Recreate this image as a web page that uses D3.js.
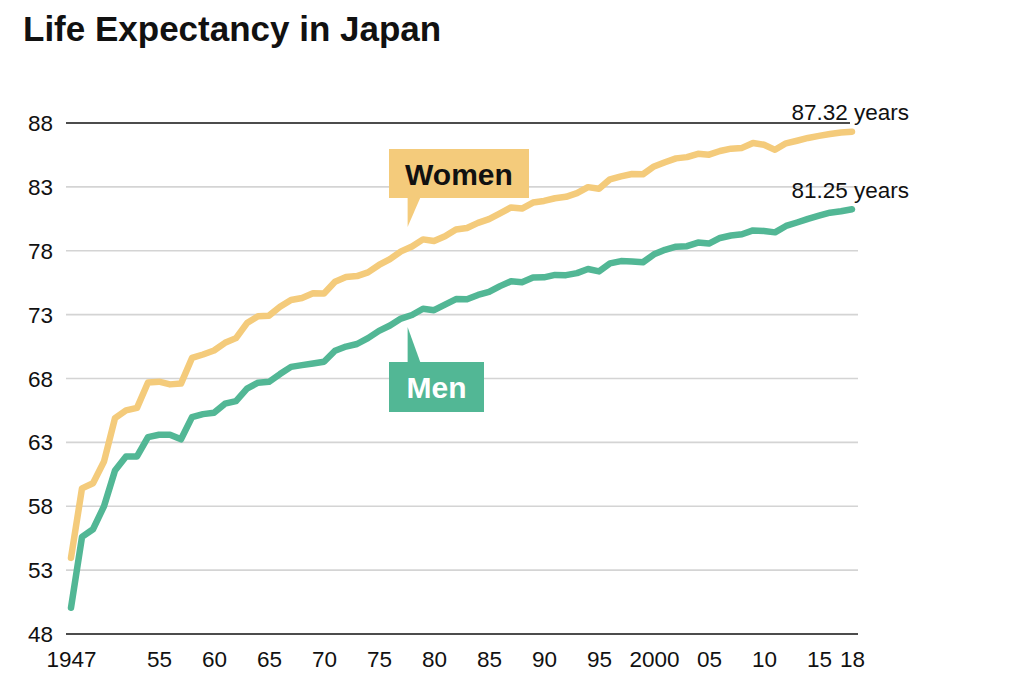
<!DOCTYPE html>
<html>
<head>
<meta charset="utf-8">
<script src="https://cdn.jsdelivr.net/npm/d3@7"></script>
<style>
  body { margin: 0; background: #fff; }
  svg text { font-family: "Liberation Sans", Arial, Helvetica, sans-serif; fill: #111; }
</style>
</head>
<body>
<div id="chart"></div>
<script>
// life expectancy at birth, 1947-2018
var years = d3.range(1947, 2019);
var women = [53.96, 59.4, 59.8, 61.5, 64.9, 65.5, 65.7, 67.69, 67.75, 67.54,
  67.6, 69.61, 69.88, 70.19, 70.79, 71.16, 72.34, 72.87, 72.92, 73.61,
  74.15, 74.3, 74.67, 74.66, 75.58, 75.94, 76.02, 76.31, 76.89, 77.35,
  77.95, 78.33, 78.89, 78.76, 79.13, 79.66, 79.78, 80.18, 80.48, 80.93,
  81.39, 81.3, 81.77, 81.9, 82.11, 82.22, 82.51, 82.98, 82.85, 83.59,
  83.82, 84.01, 83.99, 84.6, 84.93, 85.23, 85.33, 85.59, 85.52, 85.81,
  85.99, 86.05, 86.44, 86.3, 85.9, 86.41, 86.61, 86.83, 86.99, 87.14,
  87.26, 87.32];
var men = [50.06, 55.6, 56.2, 58.0, 60.8, 61.9, 61.9, 63.41, 63.6, 63.59,
  63.24, 64.98, 65.21, 65.32, 66.03, 66.23, 67.21, 67.67, 67.74, 68.35,
  68.91, 69.05, 69.18, 69.31, 70.17, 70.5, 70.7, 71.16, 71.73, 72.15,
  72.69, 72.97, 73.46, 73.35, 73.79, 74.22, 74.2, 74.54, 74.78, 75.23,
  75.61, 75.54, 75.91, 75.92, 76.11, 76.09, 76.25, 76.57, 76.38, 77.01,
  77.19, 77.16, 77.1, 77.72, 78.07, 78.32, 78.36, 78.64, 78.56, 79.0,
  79.19, 79.29, 79.59, 79.55, 79.44, 79.94, 80.21, 80.5, 80.75, 80.98,
  81.09, 81.25];
var xTickYears = [1947, 1955, 1960, 1965, 1970, 1975, 1980, 1985, 1990, 1995, 2000, 2005, 2010, 2015, 2018];
var xTickLabels = ["1947", "55", "60", "65", "70", "75", "80", "85", "90", "95", "2000", "05", "10", "15", "18"];
var yTicks = [48, 53, 58, 63, 68, 73, 78, 83, 88];

var width = 1024, height = 683;
var colWomen = "#F4CB7B", colMen = "#52B795";
var fs = 22.5;

var svg = d3.select("#chart").append("svg")
  .attr("width", width)
  .attr("height", height);

var x = d3.scaleLinear().domain([1947, 2018]).range([71, 852]);
var y = d3.scaleLinear().domain([48, 88]).range([634, 123]);

svg.append("text")
  .attr("x", 23).attr("y", 41)
  .attr("font-size", 35).attr("font-weight", "bold")
  .attr("fill", "#000")
  .text("Life Expectancy in Japan");

// gridlines
svg.selectAll(".grid").data(yTicks).enter().append("line")
  .attr("class", "grid")
  .attr("x1", 66)
  .attr("x2", d => d == 88 ? 850 : 858)
  .attr("y1", d => y(d)).attr("y2", d => y(d))
  .attr("stroke", d => (d == 88 || d == 48) ? "#111" : "#d4d4d4")
  .attr("stroke-width", 1.6);

// y labels
svg.selectAll(".ylab").data(yTicks).enter().append("text")
  .attr("class", "ylab")
  .attr("x", 53).attr("y", d => y(d) + 8)
  .attr("text-anchor", "end")
  .attr("font-size", fs)
  .text(d => d);

// x labels
var xAxis = d3.axisBottom(x)
  .tickValues(xTickYears)
  .tickSize(0)
  .tickPadding(0)
  .tickFormat((d, i) => xTickLabels[i]);
var gx = svg.append("g")
  .attr("transform", "translate(0,651)")
  .call(xAxis);
gx.select(".domain").remove();
gx.selectAll("text")
  .attr("font-size", fs)
  .attr("font-family", "Liberation Sans, Arial, sans-serif")
  .attr("fill", "#111")
  .attr("dy", "0.71em");

var line = d3.line()
  .x((d, i) => x(years[i]))
  .y(d => y(d));

svg.append("path")
  .datum(women)
  .attr("d", line)
  .attr("fill", "none")
  .attr("stroke", colWomen)
  .attr("stroke-width", 6.5)
  .attr("stroke-linejoin", "round")
  .attr("stroke-linecap", "round");

svg.append("path")
  .datum(men)
  .attr("d", line)
  .attr("fill", "none")
  .attr("stroke", colMen)
  .attr("stroke-width", 6.5)
  .attr("stroke-linejoin", "round")
  .attr("stroke-linecap", "round");

// end labels
var last = years.length - 1;
svg.append("text")
  .attr("x", 909).attr("y", y(women[last]) - 12)
  .attr("text-anchor", "end").attr("font-size", fs)
  .text(women[last].toFixed(2) + " years");
svg.append("text")
  .attr("x", 909).attr("y", y(men[last]) - 11)
  .attr("text-anchor", "end").attr("font-size", fs)
  .text(men[last].toFixed(2) + " years");

// callouts
var px = x(1977.6);
var wg = svg.append("g");
wg.append("rect")
  .attr("x", 389).attr("y", 149).attr("width", 140).attr("height", 49)
  .attr("fill", colWomen);
wg.append("path")
  .attr("d", `M${px},197 L${px},227 L${px + 13},197 Z`)
  .attr("fill", colWomen);
wg.append("text")
  .attr("x", 459).attr("y", 185)
  .attr("text-anchor", "middle")
  .attr("font-size", 30).attr("font-weight", "bold")
  .attr("fill", "#000")
  .text("Women");

var mg = svg.append("g");
mg.append("rect")
  .attr("x", 389).attr("y", 362).attr("width", 95).attr("height", 50)
  .attr("fill", colMen);
mg.append("path")
  .attr("d", `M${px},363 L${px},327 L${px + 13},363 Z`)
  .attr("fill", colMen);
mg.append("text")
  .attr("x", 436.5).attr("y", 398)
  .attr("text-anchor", "middle")
  .attr("font-size", 30).attr("font-weight", "bold")
  .style("fill", "#fff")
  .text("Men");
</script>
</body>
</html>
